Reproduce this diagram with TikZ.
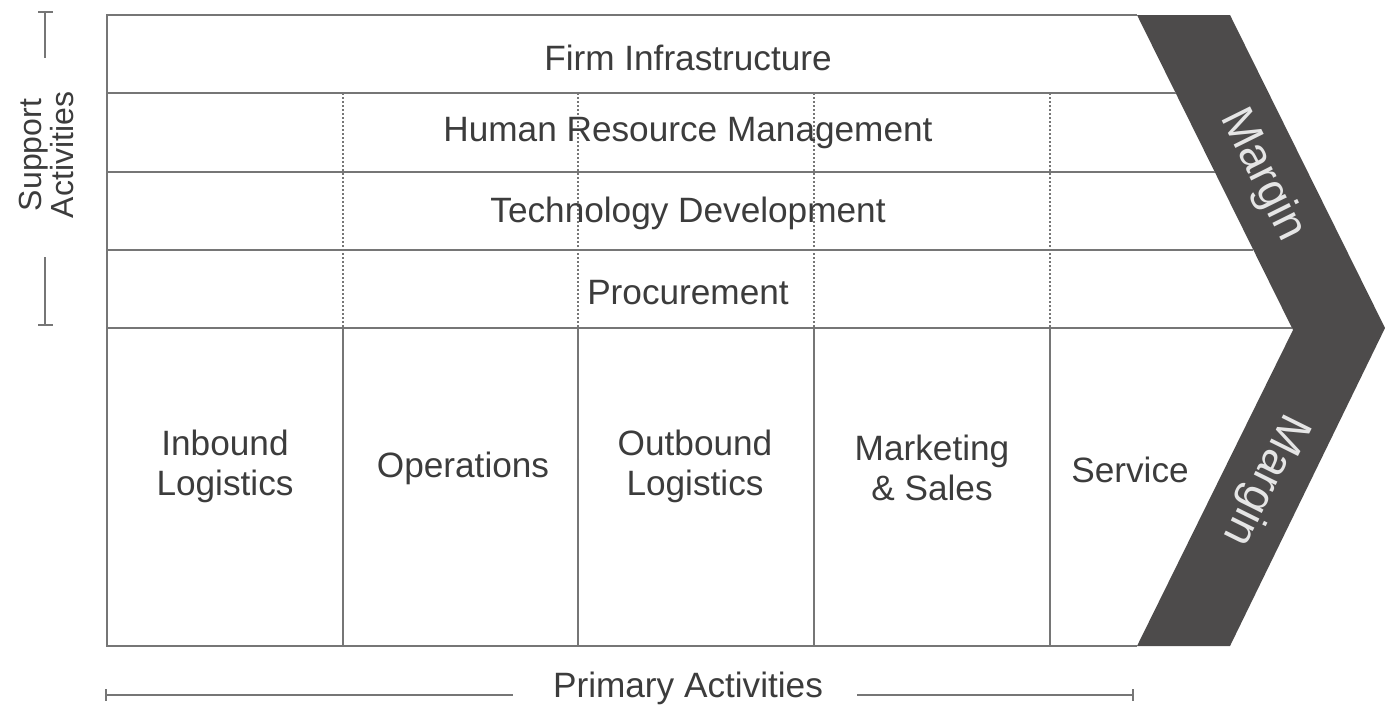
\documentclass[tikz,border=0pt]{standalone}
\usepackage{fontspec}
\setmainfont{Liberation Sans}
\definecolor{linegray}{HTML}{767676}
\definecolor{bandgray}{HTML}{4D4B4B}
\definecolor{txtgray}{HTML}{3C3C3C}
\begin{document}
\begin{tikzpicture}[x=0.5pt,y=-0.5pt,
  grid/.style={draw=linegray,line width=1.1pt},
  dotgrid/.style={draw=linegray,line width=1pt,dash pattern=on 1pt off 1pt},
  lbl/.style={text=txtgray,font=\fontsize{17.6}{20}\selectfont,align=center,inner sep=0pt},
  mlbl/.style={text=white!90!black,font=\fontsize{23}{26}\selectfont,inner sep=0pt},
  brk/.style={draw=linegray,line width=0.9pt}]
\useasboundingbox (0,0) rectangle (1385,724);
% chevron band
\fill[bandgray] (1137,15) -- (1230,15) -- (1385,328) -- (1230,646) -- (1137,646) -- (1293,330) -- cycle;
% frame
\draw[grid] (1137,15) -- (107,15) -- (107,646) -- (1137,646);
\draw[grid] (107,93) -- (1175.6,93);
\draw[grid] (107,172) -- (1214.7,172);
\draw[grid] (107,250) -- (1253.4,250);
\draw[grid] (107,328) -- (1292,328);
\foreach \x in {343,578,814,1050}{
  \draw[dotgrid] (\x,93) -- (\x,328);
  \draw[grid] (\x,328) -- (\x,646);
}
% support rows
\node[lbl] (firm) at (688,58) {Firm Infrastructure};
\node[lbl] (hrm) at (688,133) {Human Resource Management};
\node[lbl] (tech) at (688,213) {Technology Development};
\node[lbl] (proc) at (688,293) {Procurement};
% primary
\node[lbl] (inb) at (225,466) {Inbound\\Logistics};
\node[lbl] (ops) at (463,468) {Operations};
\node[lbl] (outb) at (695,466) {Outbound\\Logistics};
\node[lbl] (mkt) at (932,468) {Marketing\\\& Sales};
\node[lbl] (serv) at (1130,470) {Service};
% margin labels
\node[mlbl,rotate=-63.6] (m1) at (1262,175) {Margin};
\node[mlbl,rotate=-116.4] (m2) at (1265,480) {Margin};
% support activities bracket
\node[lbl,rotate=90,font=\fontsize{16}{16}\selectfont] (supp) at (46,155) {Support\\Activities};
\coordinate (sa1) at (45,12);
\coordinate (sa2) at (45,58);
\coordinate (sb1) at (45,257);
\coordinate (sb2) at (45,325);
\draw[brk] (sa1) -- (sa2);
\draw[brk] (38,12) -- (53,12);
\draw[brk] (sb1) -- (sb2);
\draw[brk] (38,325) -- (53,325);
% primary activities bracket
\node[lbl] (prim) at (688,688) {Primary Activities};
\coordinate (pa1) at (106,695);
\coordinate (pa2) at (513,695);
\coordinate (pb1) at (857,695);
\coordinate (pb2) at (1133,695);
\draw[brk] (pa1) -- (pa2);
\draw[brk] (106,689) -- (106,701);
\draw[brk] (pb1) -- (pb2);
\draw[brk] (1133,689) -- (1133,701);
\end{tikzpicture}
\end{document}
